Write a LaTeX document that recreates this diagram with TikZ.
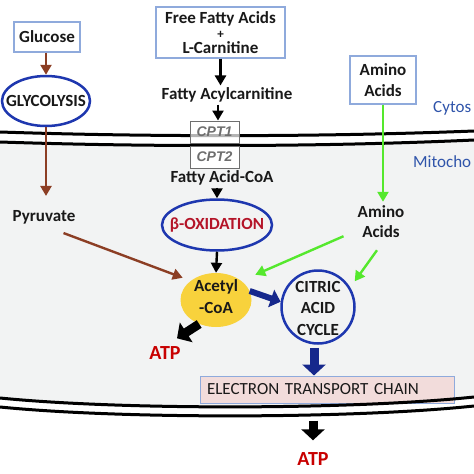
\documentclass[tikz,border=0pt]{standalone}
\usepackage{fontspec}
\setmainfont{Carlito}
\newfontfamily\cptfont{Liberation Sans}
\usetikzlibrary{arrows.meta,shapes.geometric,calc}
\definecolor{txt}{RGB}{25,25,25}
\definecolor{boxblue}{RGB}{143,170,220}
\definecolor{ovalblue}{RGB}{30,55,175}
\definecolor{navy}{RGB}{22,40,140}
\definecolor{brownc}{RGB}{140,62,36}
\definecolor{greenc}{RGB}{85,232,45}
\definecolor{oxred}{RGB}{180,20,40}
\definecolor{atpred}{RGB}{200,0,0}
\definecolor{yellowc}{RGB}{248,210,60}
\definecolor{mitogray}{RGB}{242,243,243}
\definecolor{etcpink}{RGB}{242,220,219}
\definecolor{cptgray}{RGB}{110,110,110}
\definecolor{cytoblue}{RGB}{47,84,170}
\newcommand\lblfont{\fontsize{17}{21}\selectfont\bfseries}
\begin{document}
\begin{tikzpicture}[x=1pt,y=-1pt,
  box/.style={draw=boxblue, line width=1.2pt, fill=white, inner sep=0pt, font=\lblfont, text=txt, align=center},
  lbl/.style={font=\lblfont, text=txt, align=center, inner sep=2pt},
  oval/.style={ellipse, draw=ovalblue, line width=2.5pt, inner sep=0pt},
  arr/.style={line width=2.4pt, -{Triangle[length=10pt,width=11pt]}},
  brownarr/.style={arr, draw=brownc},
  blackarr/.style={arr, draw=black},
  greenarr/.style={arr, draw=greenc},
  block/.style={line width=9pt, -{Triangle[length=11pt,width=23pt]}},
  membrane/.style={line width=3pt, draw=black},
  cpt/.style={draw=cptgray, line width=1pt, inner sep=0pt, font=\cptfont\fontsize{14}{16}\selectfont\bfseries\itshape, text=cptgray, minimum width=49pt},
  atp/.style={font=\fontsize{20}{24}\selectfont\bfseries, text=atpred, inner sep=2pt},
  comp/.style={font=\fontsize{17}{21}\selectfont, text=cytoblue, anchor=west, inner sep=0pt}
]
\useasboundingbox (0,0) rectangle (474,474);
% mitochondrion interior
\fill[mitogray] (0,142) .. controls (150,147) and (320,147) .. (474,140) -- (474,397) .. controls (350,410) and (120,410) .. (0,398) -- cycle;
% electron transport chain box
\node[draw=boxblue, line width=1pt, fill=etcpink, font=\fontsize{17}{21}\selectfont, text=txt, text width=240pt, inner xsep=7pt, minimum height=27pt, align=left] (etc) at (327,389.5) {ELECTRON TRANSPORT CHAIN};
% membranes
\draw[membrane] (0,132) .. controls (150,137) and (320,137) .. (474,131);
\draw[membrane] (0,142) .. controls (150,147) and (320,147) .. (474,140);
\draw[membrane] (0,398) .. controls (120,410) and (350,410) .. (474,397);
\draw[membrane] (0,407) .. controls (120,419) and (350,419) .. (474,406);
% compartments
\node[comp] (cyto) at (433,108) {Cytos};
\node[comp] (mito) at (413,162) {Mitocho};
% CPT boxes
\node[cpt, fill=white, fill opacity=0.7, text opacity=1, minimum height=22pt] (cpt1) at (214.5,132) {CPT1};
\node[cpt, fill=white, minimum height=22pt] (cpt2) at (214.5,157) {CPT2};
% nodes
\node[box, minimum width=66pt, minimum height=30pt] (glucose) at (47,37) {Glucose};
\node[oval, minimum width=88pt, minimum height=50pt, fill=white, label={[lbl]center:GLYCOLYSIS}] (glyco) at (46,101) {};
\node[lbl] (pyr) at (44,217) {Pyruvate};
\node[box, minimum width=129pt, minimum height=51pt, font=\fontsize{17}{15}\selectfont\bfseries] (ffa) at (220.5,32.5) {Free Fatty Acids\\{\fontsize{13}{15}\selectfont +}\\L-Carnitine};
\node[lbl] (fac) at (227,95) {Fatty Acylcarnitine};
\node[lbl] (facoa) at (222,178) {Fatty Acid-CoA};
\node[oval, minimum width=110pt, minimum height=51pt, label={[lbl, text=oxred]center:β-OXIDATION}] (ox) at (217,225) {};
\node[ellipse, fill=yellowc, minimum width=71pt, minimum height=54pt, inner sep=0pt, label={[lbl, yshift=3pt, font=\fontsize{17}{22}\selectfont\bfseries]center:Acetyl\\-CoA}] (acetyl) at (216,300) {};
\node[circle, draw=ovalblue, line width=2.5pt, minimum size=73pt, inner sep=0pt, label={[lbl, yshift=-1pt, font=\fontsize{17}{21.5}\selectfont\bfseries]center:CITRIC\\ACID\\CYCLE}] (citric) at (318,307) {};
\node[box, minimum width=66pt, minimum height=48pt] (aminotop) at (383,80) {Amino\\Acids};
\node[lbl, font=\fontsize{17}{20}\selectfont\bfseries] (aminoin) at (381,222) {Amino\\Acids};
\node[atp] (atp1) at (165,353) {ATP};
\node[atp] (atp2) at (313,459) {ATP};
% connectors
\draw[brownarr] (glucose.south -| glyco.north) -- (glyco.north);
\draw[brownarr, shorten >=12pt] (glyco.south) -- (glyco.south |- pyr.north);
\draw[brownarr] ($(pyr.south east)+(-14,7)$) -- ($(acetyl.north west)+(-8,-3)$);
\draw[blackarr] (ffa.south) -- (ffa.south |- fac.north);
\draw[blackarr] ([xshift=3.5pt]cpt1.north |- fac.south) -- ([xshift=3.5pt]cpt1.north);
\draw[blackarr] (ox.north |- facoa.south) -- (ox.north);
\draw[blackarr] (ox.south) -- (acetyl.north);
\draw[greenarr, shorten >=2pt] (aminotop.south) -- (aminotop.south |- aminoin.north);
\draw[greenarr] ($(aminoin.south west)+(-12,-4)$) -- ($(acetyl.north east)+(14,-6)$);
\draw[greenarr] ($(aminoin.south)+(-4,10)$) -- ($(citric.north east)+(10,1)$);
\draw[navy, line width=6pt, -{Triangle[length=10pt,width=18pt]}] (acetyl.15) -- (citric.172);
\draw[block, draw=black] (acetyl.235) -- ($(atp1.north)+(12,-6)$);
\draw[block, draw=navy, shorten <=3pt] ([xshift=-4pt]citric.south) -- ([xshift=-4pt]citric.south |- etc.north);
\draw[block, draw=black, shorten <=17pt, shorten >=10pt] (atp2.north |- etc.south) -- (atp2.north);
\end{tikzpicture}
\end{document}
